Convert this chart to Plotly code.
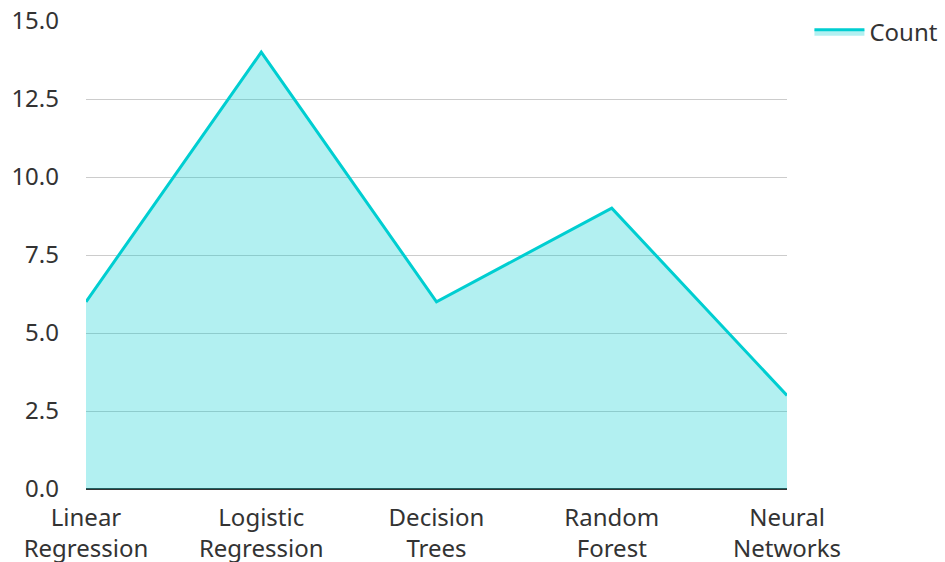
import plotly.graph_objects as go

models = ["Linear<br>Regression", "Logistic<br>Regression", "Decision<br>Trees",
          "Random<br>Forest", "Neural<br>Networks"]
counts = [6, 14, 6, 9, 3]
y_ticks = [0, 2.5, 5, 7.5, 10, 12.5, 15]

fig = go.Figure(
    go.Scatter(
        x=models,
        y=counts,
        name="Count",
        mode="lines",
        fill="tozeroy",
        line=dict(color="#00CED1", width=3),
        fillcolor="rgba(0,206,209,0.3)",
    )
)

fig.update_layout(
    width=945,
    height=562,
    margin=dict(l=86, r=158, t=21, b=73, autoexpand=False),
    paper_bgcolor="white",
    plot_bgcolor="white",
    font=dict(family="Noto Sans", size=24, color="#333"),
    showlegend=True,
    legend=dict(x=1.032, y=1.024, xanchor="left", yanchor="top", itemwidth=50,
                font=dict(size=24, color="#333")),
    xaxis=dict(range=[0, 4], showgrid=False, ticks="", tickfont=dict(size=24),
               ticklabelstandoff=12, automargin=False),
    yaxis=dict(range=[0, 15], tickvals=y_ticks, tickformat=".1f",
               gridcolor="#cccccc", gridwidth=1,
               zeroline=True, zerolinecolor="#333333", zerolinewidth=2,
               ticks="", tickfont=dict(size=24), ticklabelstandoff=26,
               automargin=False),
)

fig.write_html("out.html")
